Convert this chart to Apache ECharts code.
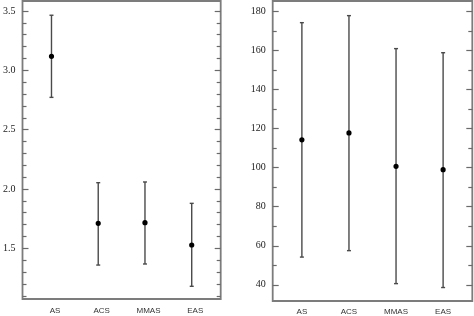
<!DOCTYPE html>
<html>
<head>
<meta charset="utf-8">
<script src="https://cdn.jsdelivr.net/npm/echarts@6/dist/echarts.min.js"></script>
<style>html,body{margin:0;padding:0;background:#fff}#c{width:474px;height:316px}</style>
</head>
<body>
<div id="c"></div>
<script>
const categories = ['AS', 'ACS', 'MMAS', 'EAS'];
const leftMean = [3.118, 1.711, 1.716, 1.528];
const leftLow = [2.772, 1.359, 1.368, 1.180];
const leftHigh = [3.464, 2.053, 2.059, 1.879];
const rightMean = [114.3, 117.8, 100.7, 99.0];
const rightLow = [54.2, 57.5, 40.6, 38.6];
const rightHigh = [174.3, 177.9, 161.0, 158.9];
const leftMajorTicks = [1.5, 2.0, 2.5, 3.0, 3.5];
const leftMinorTicks = [1.1, 1.2, 1.3, 1.4, 1.6, 1.7, 1.8, 1.9, 2.1, 2.2, 2.3, 2.4, 2.6, 2.7, 2.8, 2.9, 3.1, 3.2, 3.3, 3.4];
const rightMajorTicks = [40, 60, 80, 100, 120, 140, 160, 180];
const rightMinorTicks = [50, 70, 90, 110, 130, 150, 170];
const categoryPositions = [1, 2, 3, 4];

const chart = echarts.init(document.getElementById('c'), null, {renderer: 'canvas'});

function build(low, mean, high) {
  return categories.map((c, i) => [categoryPositions[i], low[i], mean[i], high[i]]);
}

function renderItem(params, api) {
  const x = api.value(0);
  const lo = api.coord([x, api.value(1)]);
  const mid = api.coord([x, api.value(2)]);
  const hi = api.coord([x, api.value(3)]);
  const cap = 2;
  const ls = {stroke: '#4a4a4a', lineWidth: 1.4};
  return {
    type: 'group',
    children: [
      {type: 'line', shape: {x1: lo[0], y1: lo[1], x2: hi[0], y2: hi[1]}, style: ls},
      {type: 'line', shape: {x1: hi[0] - cap, y1: hi[1], x2: hi[0] + cap, y2: hi[1]}, style: ls},
      {type: 'line', shape: {x1: lo[0] - cap, y1: lo[1], x2: lo[0] + cap, y2: lo[1]}, style: ls},
      {type: 'circle', shape: {cx: mid[0], cy: mid[1], r: 2.6}, style: {fill: '#000'}}
    ]
  };
}

const tickColor = '#6a6a6a';
function yAxes(gridIndex, min, max, majors, minors, showLabels, fmt) {
  const base = {
    type: 'value', gridIndex: gridIndex, min: min, max: max,
    axisLine: {show: false}, splitLine: {show: false}
  };
  return [
    Object.assign({}, base, {
      position: 'left',
      axisTick: {show: true, inside: true, length: 6, customValues: majors, lineStyle: {color: tickColor, width: 1.2}},
      axisLabel: {show: true, customValues: majors, formatter: fmt, margin: 7,
        fontFamily: 'Liberation Serif', fontSize: 10, color: '#222'}
    }),
    Object.assign({}, base, {
      position: 'left',
      axisTick: {show: true, inside: true, length: 4, customValues: minors, lineStyle: {color: tickColor, width: 1.2}},
      axisLabel: {show: false}
    }),
    Object.assign({}, base, {
      position: 'right',
      axisTick: {show: true, inside: true, length: 6, customValues: majors, lineStyle: {color: tickColor, width: 1.2}},
      axisLabel: {show: false}
    }),
    Object.assign({}, base, {
      position: 'right',
      axisTick: {show: true, inside: true, length: 4, customValues: minors, lineStyle: {color: tickColor, width: 1.2}},
      axisLabel: {show: false}
    })
  ];
}

function xAxis(gridIndex, pad, margin) {
  return {
    type: 'value', gridIndex: gridIndex, min: 0.38, max: 4.62,
    axisLine: {show: false}, splitLine: {show: false},
    axisTick: {show: false},
    axisLabel: {
      show: true, customValues: categoryPositions, margin: margin,
      formatter: v => categories[Math.round(v) - 1] || '',
      fontFamily: 'Liberation Sans', fontSize: 8, color: '#333',
      padding: pad
    }
  };
}

chart.setOption({
  animation: false,
  backgroundColor: '#fff',
  grid: [
    {left: 21.7, right: 253.3, top: 1, bottom: 17, show: true, borderColor: '#7c7c7c', borderWidth: 1.8, backgroundColor: 'transparent'},
    {left: 272.7, right: 1.7, top: 1, bottom: 14.3, show: true, borderColor: '#7c7c7c', borderWidth: 1.8, backgroundColor: 'transparent'}
  ],
  xAxis: [xAxis(0, [0, 0, 0, 7], 8), xAxis(1, [0, 0, 0, 0], 7)],
  yAxis: [].concat(
    yAxes(0, 1.073, 3.584, leftMajorTicks, leftMinorTicks, true, v => v.toFixed(1)),
    yAxes(1, 31.7, 185.4, rightMajorTicks, rightMinorTicks, true, v => String(v))
  ),
  series: [
    {type: 'custom', xAxisIndex: 0, yAxisIndex: 0, renderItem: renderItem,
      encode: {x: 0, y: [1, 2, 3]}, data: build(leftLow, leftMean, leftHigh)},
    {type: 'custom', xAxisIndex: 1, yAxisIndex: 4, renderItem: renderItem,
      encode: {x: 0, y: [1, 2, 3]}, data: build(rightLow, rightMean, rightHigh)}
  ]
});
</script>
</body>
</html>
